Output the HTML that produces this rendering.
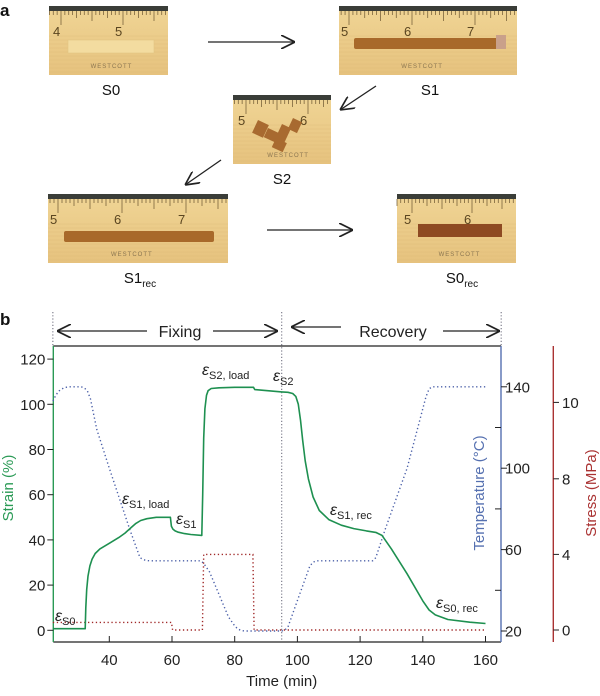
<!DOCTYPE html>
<html><head><meta charset="utf-8">
<style>
html,body{margin:0;padding:0;background:#fff;}
body{width:600px;height:691px;overflow:hidden;font-family:"Liberation Sans",sans-serif;}
svg text{font-family:"Liberation Sans",sans-serif;}
</style></head>
<body>
<svg id="fig" width="600" height="691" viewBox="0 0 600 691">
  <defs>
    <marker id="ah" viewBox="0 0 10 10" refX="10" refY="5" markerWidth="14" markerHeight="14" markerUnits="userSpaceOnUse" orient="auto">
      <path d="M0,0 L10,5 L0,10" fill="none" stroke="#222" stroke-width="1.2"/>
    </marker>
    <linearGradient id="wood" x1="0" y1="0" x2="0" y2="1">
      <stop offset="0" stop-color="#f0d595"/><stop offset="1" stop-color="#e6c27e"/>
    </linearGradient>
  </defs>
  <text x="0" y="16" font-size="17" font-weight="bold" fill="#111">a</text>
  <g id="photos"></g>

  <g stroke="#222" stroke-width="1.3" fill="none">
    <line x1="208" y1="42" x2="295" y2="42" marker-end="url(#ah)"/>
    <line x1="376" y1="86" x2="340" y2="110" marker-end="url(#ah)"/>
    <line x1="221" y1="160" x2="185" y2="185" marker-end="url(#ah)"/>
    <line x1="267" y1="230" x2="353" y2="230" marker-end="url(#ah)"/>
  </g>
  <g font-size="15" fill="#111" text-anchor="middle">
    <text x="111" y="95">S0</text>
    <text x="430" y="95">S1</text>
    <text x="282" y="184">S2</text>
    <text x="140" y="283">S1<tspan font-size="10" dy="4">rec</tspan></text>
    <text x="462" y="283">S0<tspan font-size="10" dy="4">rec</tspan></text>
  </g>

  <text x="0" y="325" font-size="17" font-weight="bold" fill="#111">b</text>
  <g id="chart"></g>
</svg>
<script>
const strainTime = [22,32.3,32.5,32.8,33.2,33.8,34.5,35.5,37,40,43,45,47,48.5,50,52,55,59.5,59.8,60.3,61,62,64,66,69.5,69.8,70.1,70.5,71,71.5,72.5,75,80,86,86.4,95,97,98.5,99.5,100.3,101,101.7,102.5,103.5,105,107,110,114,118,122,125,127,130,135,140,142,144,148,155,160];
const strainVals = [0.7,0.7,10,18,24,28.5,31.5,34,36,38.5,41,43,45.5,47.3,48.6,49.4,50,50,46,44.8,44,43.4,42.8,42.4,42,60,85,98,104,106,107,107.3,107.5,107.5,106.5,105.5,105.3,104.8,103.5,100,93,84,75,67,59,53,49,46.5,45,44,43.3,42,36,25,13,9,6.8,4.8,3.6,3];
const tempTime = [22,23,24,25.5,27,31,32,33,34,36,40,46.6,49.8,51,52,53,69,70,72,75,78,80,81,82,83,95,96,97,100,104,105,106,124,125,128,135,141,142,143,160];
const tempVals = [133,136,138,139.5,140,140,139.5,138,134,119,100,69.6,56,55,54.6,54.5,54.5,53.5,49,38,27,22.5,21,20.3,20,20,20.5,22,35,52,53.8,54.5,54.5,56,70,100,135,139,140,140];
const stressTime = [22,59.8,60.2,69.7,70.1,85.8,86.2,160];
const stressVals = [0.4,0.4,0,0,4,4,0,0];
const xTicks = [40,60,80,100,120,140,160];
const strainTicks = [0,20,40,60,80,100,120];
const tempTicks = [20,40,60,80,100,120,140];
const tempLabels = ["20","","60","","100","","140"];
const stressTicks = [0,4,8,10];

const NS="http://www.w3.org/2000/svg";
function mk(tag,attrs,parent){const e=document.createElementNS(NS,tag);for(const k in attrs)e.setAttribute(k,attrs[k]);parent.appendChild(e);return e;}
const chart=document.getElementById('chart');
const L=53.3,R=501,T=346,B=642;
const x=t=>109.3+(t-40)*3.135;
const yS=s=>630.3-s*2.26;
const yT=v=>631-(v-20)*2.035;
const yP=p=> p<=8 ? 630-p*18.9 : 478.8-(p-8)*38.2;

[[22,312,T],[95,312,B],[165,312,T]].forEach(d=>{
  const l=mk('line',{x1:x(d[0]),x2:x(d[0]),y1:d[1],y2:d[2],stroke:'#667',"stroke-width":1,"stroke-dasharray":"1.2,2"},chart);
  
  
});
function arrow(x1,x2,y,name){const l=mk('line',{x1:x1,y1:y,x2:x2,y2:y,stroke:'#222',"stroke-width":1.2,"marker-end":"url(#ah)"},chart);
  
  }
arrow(147,57,331,'fixing-arrow-left');arrow(213,278,331,'fixing-arrow-right');
arrow(341,291,327,'recovery-arrow-left');arrow(443,500,331,'recovery-arrow-right');
let t1=mk('text',{x:180,y:337,"font-size":16,fill:'#222',"text-anchor":"middle"},chart);t1.textContent='Fixing';


let t2=mk('text',{x:393,y:337,"font-size":16,fill:'#222',"text-anchor":"middle"},chart);t2.textContent='Recovery';



let f1=mk('line',{x1:L,x2:R,y1:T,y2:T,stroke:'#222',"stroke-width":1.2},chart);


let f2=mk('line',{x1:L,x2:R,y1:B,y2:B,stroke:'#222',"stroke-width":1.2},chart);


let f3=mk('line',{x1:L,x2:L,y1:T,y2:B,stroke:'#2a9a55',"stroke-width":1.4},chart);


let f4=mk('line',{x1:R,x2:R,y1:T,y2:B,stroke:'#5570b0',"stroke-width":1.4},chart);


let f5=mk('line',{x1:553.3,x2:553.3,y1:T,y2:B,stroke:'#a33',"stroke-width":1.4},chart);



xTicks.forEach(v=>{
  const tk=mk('line',{x1:x(v),x2:x(v),y1:B,y2:B-6,stroke:'#222'},chart);
  
  
  const tx=mk('text',{x:x(v),y:665,"font-size":15,fill:'#222',"text-anchor":"middle"},chart);tx.textContent=v;
  
  
});
let xt=mk('text',{x:x(95),y:686,"font-size":15,fill:'#222',"text-anchor":"middle"},chart);xt.textContent='Time (min)';


strainTicks.forEach(v=>{
  const tk=mk('line',{x1:L-6,x2:L,y1:yS(v),y2:yS(v),stroke:'#222'},chart);
  
  
  const tx=mk('text',{x:L-8,y:yS(v)+5.5,"font-size":15,fill:'#222',"text-anchor":"end"},chart);tx.textContent=v;
  
  
});
tempTicks.forEach((v,i)=>{
  const lab=tempLabels[i];
  const tk=mk('line',{x1:lab?R:R-6,x2:lab?R+6:R,y1:yT(v),y2:yT(v),stroke:'#222'},chart);
  
  
  if(lab){const tx=mk('text',{x:R+4,y:yT(v)+5.5,"font-size":15,fill:'#222'},chart);tx.textContent=lab;
  
  }
});
stressTicks.forEach(v=>{
  const tk=mk('line',{x1:553.3,x2:559,y1:yP(v),y2:yP(v),stroke:'#222'},chart);
  
  
  const tx=mk('text',{x:562,y:yP(v)+5.5,"font-size":15,fill:'#222'},chart);tx.textContent=v;
  
  
});
function vtitle(txt,cx,cy,col,name){const e=mk('text',{x:cx,y:cy,"font-size":15,fill:col,"text-anchor":"middle",transform:`rotate(-90 ${cx} ${cy})`},chart);e.textContent=txt;
  
  }
vtitle('Strain (%)',13,488,'#2a9a55','strain-axis-title');
vtitle('Temperature (°C)',484,493,'#5570b0','temperature-axis-title');
vtitle('Stress (MPa)',596,493,'#a33','stress-axis-title');

function path(ts,vs,yf,attrs,name){let d='';ts.forEach((t,i)=>{d+=(i?'L':'M')+x(t).toFixed(1)+','+yf(vs[i]).toFixed(1);});
  const p=mk('path',Object.assign({d:d,fill:'none'},attrs),chart);
  
  }
path(tempTime,tempVals,yT,{stroke:'#4a5fa8',"stroke-width":1.4,"stroke-dasharray":"1.3,2.6"},'temperature-series');
path(stressTime,stressVals,yP,{stroke:'#a02828',"stroke-width":1.4,"stroke-dasharray":"1.3,2.6"},'stress-series');
path(strainTime,strainVals,yS,{stroke:'#1e9050',"stroke-width":1.6,"stroke-linejoin":"round"},'strain-series');

function eps(xx,yy,sub,name){const e=mk('text',{x:xx,y:yy,"font-size":16,fill:'#222',"font-family":"Liberation Serif, serif","font-style":"italic"},chart);
  
  
  e.textContent='ε';const s=mk('tspan',{dy:4,"font-size":11,"font-style":"normal","font-family":"Liberation Sans, sans-serif"},e);s.textContent=sub;}
eps(55,621,'S0','label-eps-s0');
eps(122,504,'S1, load','label-eps-s1-load');
eps(176,524,'S1','label-eps-s1');
eps(202,375,'S2, load','label-eps-s2-load');
eps(273,381,'S2','label-eps-s2');
eps(330,515,'S1, rec','label-eps-s1-rec');
eps(436,608,'S0, rec','label-eps-s0-rec');

const photos=document.getElementById('photos');
function ruler(px,py,w,h,firstNum,firstOff,step,strip,name){
  const g=mk('g',{},photos);
  
  
  mk('rect',{x:px,y:py,width:w,height:h,fill:'url(#wood)'},g);
  for(let yy=py+30;yy<py+h;yy+=4)mk('line',{x1:px,x2:px+w,y1:yy,y2:yy,stroke:'#d9b573',"stroke-width":0.5,opacity:0.6},g);
  mk('rect',{x:px,y:py,width:w,height:5,fill:'#3a3d38'},g);
  const sub=step/16;
  for(let k=-20;k<100;k++){const xx=px+firstOff+k*sub;if(xx<px||xx>px+w)continue;
    const len=k%16===0?14:(k%8===0?10:(k%4===0?7:4));
    mk('line',{x1:xx,x2:xx,y1:py+5,y2:py+5+len,stroke:'#6a5530',"stroke-width":0.7},g);}
  for(let n=0;n<4;n++){const xx=px+firstOff+n*step;if(xx>px+w-4)break;
    const t=mk('text',{x:xx-8,y:py+30,"font-size":13,fill:'#5a4520',"font-family":"Liberation Serif, serif"},g);t.textContent=firstNum+n;}
  const wt=mk('text',{x:px+w*0.35,y:py+62,"font-size":6,fill:'#8a7550',"letter-spacing":"1"},g);wt.textContent='WESTCOTT';
  if(strip)strip(g);
}
ruler(49,6,119,69,4,12,62,g=>{mk('rect',{x:68,y:40,width:86,height:13,fill:'#f3dca0',stroke:'#e2c582',"stroke-width":0.6},g);},'photo-s0');
ruler(339,6,178,69,5,10,63,g=>{mk('rect',{x:354,y:38,width:150,height:11,fill:'#a8692a',rx:2},g);mk('rect',{x:496,y:35,width:10,height:14,fill:'#c9a08a'},g);},'photo-s1');
ruler(233,95,98,69,5,13,62,g=>{[[258,120,12,14],[268,128,14,10],[282,124,10,16],[293,118,10,12],[276,138,12,10]].forEach(r=>mk('rect',{x:r[0],y:r[1],width:r[2],height:r[3],fill:'#a86a30',transform:`rotate(25 ${r[0]} ${r[1]})`},g));},'photo-s2');
ruler(48,194,180,69,5,10,64,g=>{mk('rect',{x:64,y:231,width:150,height:11,fill:'#a8692a',rx:2},g);},'photo-s1rec');
ruler(397,194,119,69,5,15,60,g=>{mk('rect',{x:418,y:224,width:84,height:13,fill:'#8e4a22'},g);},'photo-s0rec');
</script>
</body></html>
